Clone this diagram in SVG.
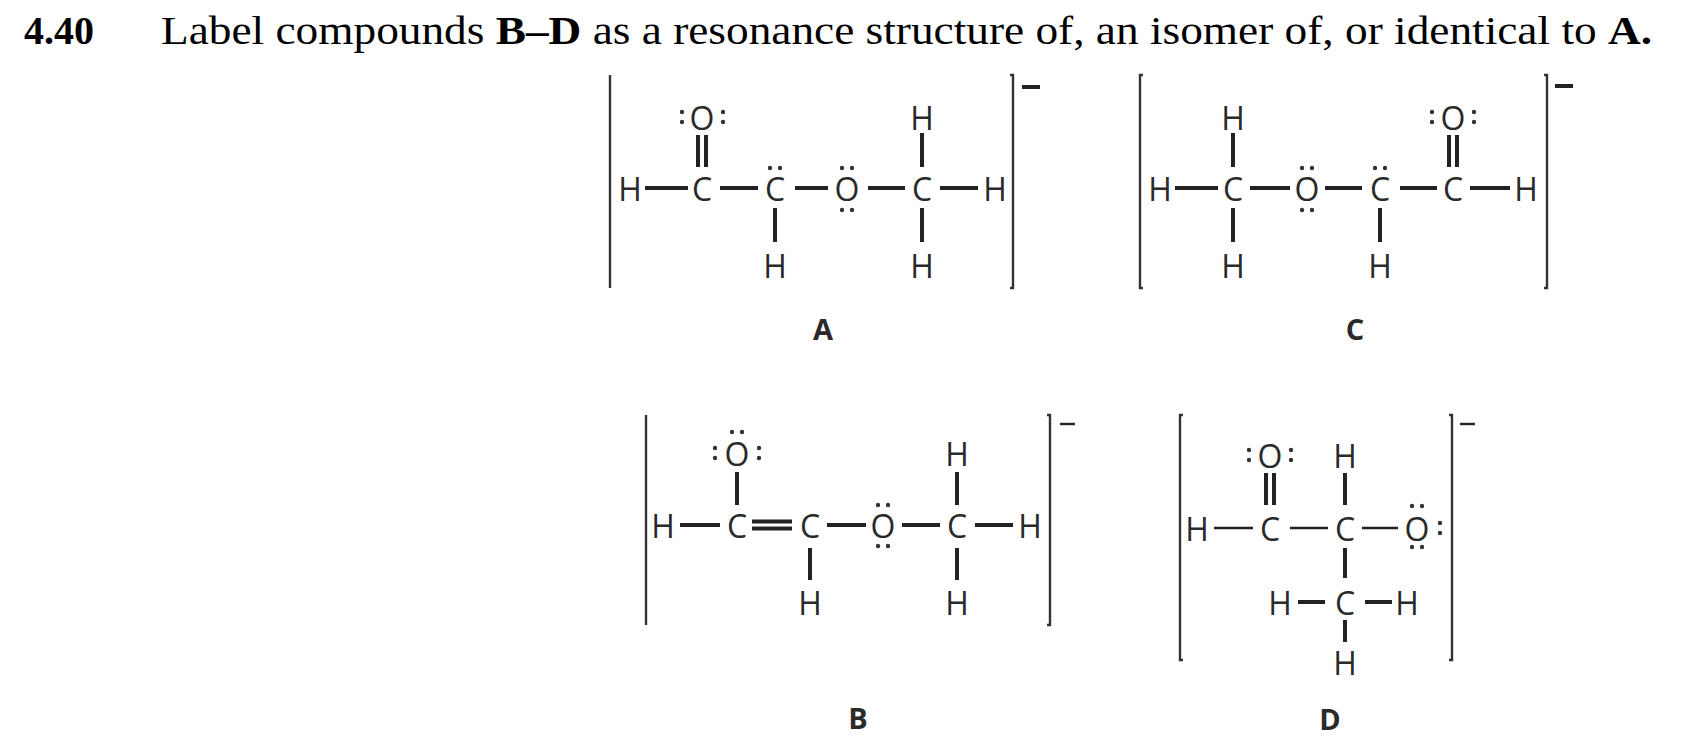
<svg xmlns="http://www.w3.org/2000/svg" width="1696" height="756" viewBox="0 0 1696 756">
<style>
.a{font-family:"Open Sans","DejaVu Sans",sans-serif;font-size:32px;font-weight:500;fill:#2a2a2a;text-anchor:middle;dominant-baseline:central}
.l{font-family:"Open Sans","DejaVu Sans",sans-serif;font-size:29px;font-weight:700;fill:#2a2a2a;text-anchor:middle;dominant-baseline:central}
.t{font-family:"Liberation Serif","Times New Roman",serif;font-size:40px;fill:#000}
.b{stroke:#222;stroke-width:4;fill:none}
.bt{stroke:#222;stroke-width:2.4;fill:none}
.br{stroke:#333;stroke-width:2.4;fill:none}
.d{fill:#333}
</style>
<rect width="1696" height="756" fill="#fff"/>
<g id="title">
<text class="t" x="24" y="44" font-weight="700">4.40</text>
<text class="t" x="161" y="44" textLength="1491" lengthAdjust="spacingAndGlyphs">Label compounds <tspan font-weight="700">B–D</tspan> as a resonance structure of, an isomer of, or identical to <tspan font-weight="700">A.</tspan></text>
</g>
<g id="A">
<path class="br" d="M610,75V288M1010,75H1013V288H1010"/>
<path class="b" d="M1022,87H1040"/>
<text class="a" x="630" y="188">H</text><text class="a" x="702" y="188">C</text><text class="a" x="775" y="188">C</text><text class="a" x="847" y="188">O</text><text class="a" x="922" y="188">C</text><text class="a" x="995" y="188">H</text>
<text class="a" x="702" y="117">O</text><text class="a" x="775" y="265">H</text><text class="a" x="922" y="117">H</text><text class="a" x="922" y="265">H</text>
<text class="l" x="823" y="328">A</text>
</g>
<g id="C">
<path class="br" d="M1143,75H1140V288H1143M1544,75H1547V288H1544"/>
<path class="b" d="M1555,86H1573"/>
<text class="a" x="1160" y="188">H</text><text class="a" x="1233" y="188">C</text><text class="a" x="1307" y="188">O</text><text class="a" x="1380" y="188">C</text><text class="a" x="1453" y="188">C</text><text class="a" x="1526" y="188">H</text>
<text class="a" x="1233" y="117">H</text><text class="a" x="1233" y="265">H</text><text class="a" x="1380" y="265">H</text><text class="a" x="1453" y="117">O</text>
<text class="l" x="1355" y="328">C</text>
</g>
<g id="B">
<path class="br" d="M646,415V625M1047,415H1050V625H1047"/>
<path class="bt" d="M1060,424H1075"/>
<text class="a" x="663" y="525">H</text><text class="a" x="737" y="525">C</text><text class="a" x="810" y="525">C</text><text class="a" x="883" y="525">O</text><text class="a" x="957" y="525">C</text><text class="a" x="1030" y="525">H</text>
<text class="a" x="737" y="453">O</text><text class="a" x="810" y="602">H</text><text class="a" x="957" y="453">H</text><text class="a" x="957" y="602">H</text>
<text class="l" x="858" y="717">B</text>
</g>
<g id="D">
<path class="br" d="M1183,415H1180V660H1183M1449,415H1452V660H1449"/>
<path class="bt" d="M1460,424H1475"/>
<text class="a" x="1197" y="528">H</text><text class="a" x="1270" y="528">C</text><text class="a" x="1345" y="528">C</text><text class="a" x="1417" y="528">O</text>
<text class="a" x="1270" y="455">O</text><text class="a" x="1345" y="455">H</text>
<text class="a" x="1280" y="602">H</text><text class="a" x="1345" y="602">C</text><text class="a" x="1407" y="602">H</text><text class="a" x="1345" y="662">H</text>
<text class="l" x="1330" y="718">D</text>
</g>
<g id="connectors">
<path class="b" d="M645,188H688M720,188H758M795,188H828M868,188H905M940,188H978M698,135V167M706,135V167M775,208V242M922,133V167M922,208V242"/>
<path class="b" d="M1175,188H1218M1250,188H1290M1325,188H1362M1400,188H1437M1470,188H1510M1233,133V167M1233,208V242M1380,208V242M1449,135V167M1457,135V167"/>
<path class="b" d="M680,525H720M752,521.5H792M752,528.5H792M827,525H866M902,525H940M975,525H1013M737,472V505M810,548V580M957,472V505M957,548V580"/>
<path class="bt" d="M1214,528H1253M1290,528H1328M1362,528H1398"/>
<path class="b" d="M1266,473V505M1274,473V505M1345,473V505M1345,548V578M1298,602H1325M1365,602H1392M1345,620V642"/>
</g>
<g id="dots" class="d">
<circle cx="682" cy="112" r="2.2"/><circle cx="682" cy="122" r="2.2"/><circle cx="723" cy="112" r="2.2"/><circle cx="723" cy="122" r="2.2"/>
<circle cx="770" cy="168" r="2.2"/><circle cx="780" cy="168" r="2.2"/>
<circle cx="842" cy="168" r="2.2"/><circle cx="852" cy="168" r="2.2"/><circle cx="842" cy="210" r="2.2"/><circle cx="852" cy="210" r="2.2"/>
<circle cx="1302" cy="168" r="2.2"/><circle cx="1312" cy="168" r="2.2"/><circle cx="1302" cy="210" r="2.2"/><circle cx="1312" cy="210" r="2.2"/>
<circle cx="1375" cy="168" r="2.2"/><circle cx="1385" cy="168" r="2.2"/>
<circle cx="1432" cy="112" r="2.2"/><circle cx="1432" cy="122" r="2.2"/><circle cx="1474" cy="112" r="2.2"/><circle cx="1474" cy="122" r="2.2"/>
<circle cx="715" cy="448" r="2.2"/><circle cx="715" cy="458" r="2.2"/><circle cx="759" cy="448" r="2.2"/><circle cx="759" cy="458" r="2.2"/><circle cx="732" cy="432" r="2.2"/><circle cx="742" cy="432" r="2.2"/>
<circle cx="878" cy="505" r="2.2"/><circle cx="888" cy="505" r="2.2"/><circle cx="878" cy="546" r="2.2"/><circle cx="888" cy="546" r="2.2"/>
<circle cx="1249" cy="450" r="2.2"/><circle cx="1249" cy="460" r="2.2"/><circle cx="1291" cy="450" r="2.2"/><circle cx="1291" cy="460" r="2.2"/>
<circle cx="1412" cy="506" r="2.2"/><circle cx="1422" cy="506" r="2.2"/><circle cx="1412" cy="547" r="2.2"/><circle cx="1422" cy="547" r="2.2"/><circle cx="1440" cy="523" r="2.2"/><circle cx="1440" cy="533" r="2.2"/>
</g>
</svg>
